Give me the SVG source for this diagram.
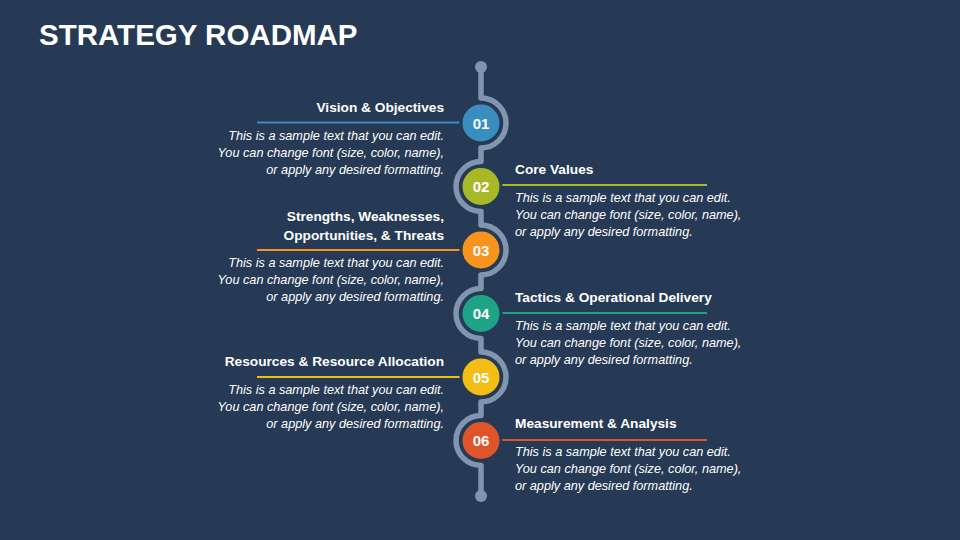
<svg xmlns="http://www.w3.org/2000/svg" width="960" height="540" viewBox="0 0 960 540">
<style>
.title{font-family:"Liberation Sans",Arial,sans-serif;font-weight:bold;font-size:29.5px;fill:#ffffff}
.h{font-family:"Liberation Sans",Arial,sans-serif;font-weight:bold;font-size:13.7px;fill:#ffffff}
.d{font-family:"Liberation Sans",Arial,sans-serif;font-style:italic;font-size:12.7px;fill:#ffffff}
.l{text-anchor:end}
.num{font-family:"Liberation Sans",Arial,sans-serif;font-weight:bold;font-size:15px;fill:#ffffff;text-anchor:middle}
.dot{stroke:#263a55;stroke-width:3}
.ln{stroke-width:2;fill:none}
</style>
<rect width="960" height="540" fill="#263a55"/>
<text class="title" x="39" y="45">STRATEGY ROADMAP</text>
<g id="connectors">
<path d="M481,67 V98 A25,25 0 0 1 481,148 V161.5 A25,25 0 0 0 481,211.5 V225 A25,25 0 0 1 481,275 V288.5 A25,25 0 0 0 481,338.5 V352 A25,25 0 0 1 481,402 V415.5 A25,25 0 0 0 481,465.5 V496" fill="none" stroke="#8195ae" stroke-width="5.5" stroke-linejoin="round"/>
<circle cx="481" cy="67" r="6" fill="#8195ae"/>
<circle cx="481" cy="496" r="6" fill="#8195ae"/>
<line class="ln" x1="257" y1="122.5" x2="465" y2="122.5" stroke="#3a8dbf"/>
<line class="ln" x1="497" y1="185" x2="707" y2="185" stroke="#a8b928"/>
<line class="ln" x1="257" y1="250" x2="465" y2="250" stroke="#f7941d"/>
<line class="ln" x1="497" y1="313" x2="707" y2="313" stroke="#1fa386"/>
<line class="ln" x1="257" y1="377" x2="465" y2="377" stroke="#f2bd14"/>
<line class="ln" x1="497" y1="440" x2="707" y2="440" stroke="#e0542a"/>
</g>
<g id="node1">
<circle class="dot" cx="481" cy="123" r="20" fill="#3a8dbf"/>
<text class="num" x="481" y="128.5">01</text>
<text class="h l" x="444" y="112">Vision &amp; Objectives</text>
<text class="d l" x="444" y="140">This is a sample text that you can edit.</text>
<text class="d l" x="444" y="157">You can change font (size, color, name),</text>
<text class="d l" x="444" y="174">or apply any desired formatting.</text>
</g>
<g id="node2">
<circle class="dot" cx="481" cy="186.5" r="20" fill="#a8b928"/>
<text class="num" x="481" y="192">02</text>
<text class="h" x="515" y="174">Core Values</text>
<text class="d" x="515" y="202">This is a sample text that you can edit.</text>
<text class="d" x="515" y="219">You can change font (size, color, name),</text>
<text class="d" x="515" y="236">or apply any desired formatting.</text>
</g>
<g id="node3">
<circle class="dot" cx="481" cy="250" r="20" fill="#f7941d"/>
<text class="num" x="481" y="255.5">03</text>
<text class="h l" x="444" y="221">Strengths, Weaknesses,</text>
<text class="h l" x="444" y="240">Opportunities, &amp; Threats</text>
<text class="d l" x="444" y="267">This is a sample text that you can edit.</text>
<text class="d l" x="444" y="284">You can change font (size, color, name),</text>
<text class="d l" x="444" y="301">or apply any desired formatting.</text>
</g>
<g id="node4">
<circle class="dot" cx="481" cy="313.5" r="20" fill="#1fa386"/>
<text class="num" x="481" y="319">04</text>
<text class="h" x="515" y="302">Tactics &amp; Operational Delivery</text>
<text class="d" x="515" y="330">This is a sample text that you can edit.</text>
<text class="d" x="515" y="347">You can change font (size, color, name),</text>
<text class="d" x="515" y="364">or apply any desired formatting.</text>
</g>
<g id="node5">
<circle class="dot" cx="481" cy="377" r="20" fill="#f2bd14"/>
<text class="num" x="481" y="382.5">05</text>
<text class="h l" x="444" y="366">Resources &amp; Resource Allocation</text>
<text class="d l" x="444" y="394">This is a sample text that you can edit.</text>
<text class="d l" x="444" y="411">You can change font (size, color, name),</text>
<text class="d l" x="444" y="428">or apply any desired formatting.</text>
</g>
<g id="node6">
<circle class="dot" cx="481" cy="440.5" r="20" fill="#e0542a"/>
<text class="num" x="481" y="446">06</text>
<text class="h" x="515" y="428">Measurement &amp; Analysis</text>
<text class="d" x="515" y="456">This is a sample text that you can edit.</text>
<text class="d" x="515" y="473">You can change font (size, color, name),</text>
<text class="d" x="515" y="490">or apply any desired formatting.</text>
</g>
</svg>
